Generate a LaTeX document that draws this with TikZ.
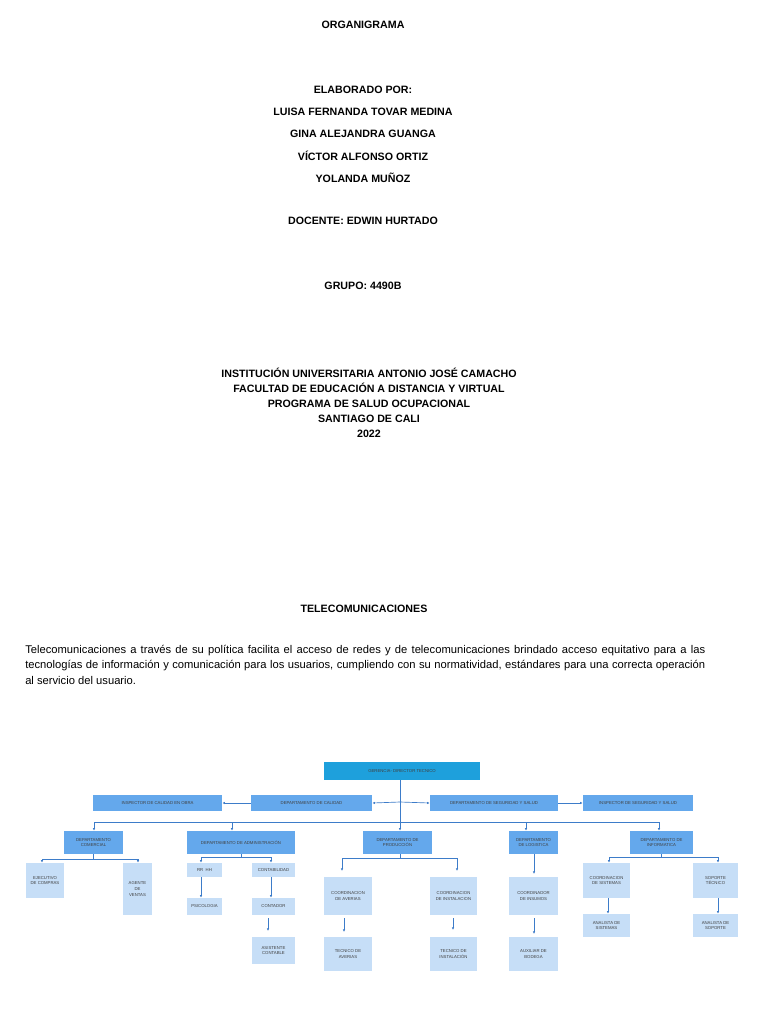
\documentclass[tikz,border=0pt]{standalone}
\usepackage{fontspec}
\setmainfont{Liberation Sans}
\usetikzlibrary{arrows.meta}
\definecolor{gtop}{HTML}{1EA0DC}
\definecolor{gmid}{HTML}{64A8EC}
\definecolor{glow}{HTML}{C6DEF7}
\definecolor{gln}{HTML}{3D7CC9}
\newcommand{\bx}[7]{\node[#2,minimum width={(#5-#3)*0.75pt},minimum height={(#6-#4)*0.75pt}] (#1) at ({(#3+#5)/2},{(#4+#6)/2}) {#7};}
\tikzset{
 box/.style={inner sep=0pt,align=center,font=\fontsize{3.2}{4.2}\selectfont,text=black!75},
 top/.style={box,fill=gtop},
 mid/.style={box,fill=gmid},
 low/.style={box,fill=glow},
 ln/.style={draw=gln,line width=0.5pt},
 ar/.style={ln,-{Latex[length=2pt,width=1.8pt]}},
 ttl/.style={font=\bfseries\fontsize{8}{9}\selectfont,align=center}
}
\begin{document}
\begin{tikzpicture}[x=0.75pt,y=-0.75pt]
\useasboundingbox[fill=white] (0,0) rectangle (768,1024);
\node[ttl] (t1) at (363,25) {ORGANIGRAMA};
\node[ttl] (t2) at (363,90) {ELABORADO POR:};
\node[ttl] (t3) at (363,112) {LUISA FERNANDA TOVAR MEDINA};
\node[ttl] (t4) at (363,134) {GINA ALEJANDRA GUANGA};
\node[ttl] (t5) at (363,156) {VÍCTOR ALFONSO ORTIZ};
\node[ttl] (t6) at (363,178) {YOLANDA MUÑOZ};
\node[ttl] (t7) at (363,221) {DOCENTE: EDWIN HURTADO};
\node[ttl] (t8) at (363,286) {GRUPO: 4490B};
\node[ttl,font=\bfseries\fontsize{8}{11.2}\selectfont] (t9) at (369,403) {INSTITUCIÓN UNIVERSITARIA ANTONIO JOSÉ CAMACHO\\FACULTAD DE EDUCACIÓN A DISTANCIA Y VIRTUAL\\PROGRAMA DE SALUD OCUPACIONAL\\SANTIAGO DE CALI\\2022};
\node[ttl] (t10) at (364,609) {TELECOMUNICACIONES};
\node[anchor=north west,inner sep=0pt,text width=510pt,align=justify,font=\fontsize{8.4}{11.6}\selectfont] (par) at (25,645) {Telecomunicaciones a través de su política facilita el acceso de redes y de telecomunicaciones brindado acceso equitativo para a las tecnologías de información y comunicación para los usuarios, cumpliendo con su normatividad, estándares para una correcta operación al servicio del usuario.};
% level 1-2
\bx{ger}{top}{324}{762}{480}{780}{GERENCIA- DIRECTOR TECNICO}
\bx{ico}{mid}{93}{795}{222}{811}{INSPECTOR DE CALIDAD EN OBRA}
\bx{dca}{mid}{251}{795}{372}{811}{DEPARTAMENTO DE CALIDAD}
\bx{dse}{mid}{430}{795}{558}{811}{DEPARTAMENTO DE SEGURIDAD Y SALUD}
\bx{ise}{mid}{583}{795}{693}{811}{INSPECTOR DE SEGURIDAD Y SALUD}
\bx{dcom}{mid}{64}{831}{123}{854}{DEPARTAMENTO\\COMERCIAL}
\bx{dadm}{mid}{187}{831}{295}{854}{DEPARTAMENTO DE ADMINISTRACIÓN}
\bx{dpro}{mid}{363}{831}{432}{854}{DEPARTAMENTO DE\\PRODUCCIÓN}
\bx{dlog}{mid}{509}{831}{558}{854}{DEPARTAMENTO\\DE LOGISTICA}
\bx{dinf}{mid}{630}{831}{693}{854}{DEPARTAMENTO DE\\INFORMATICA}
% level 3+
\bx{eje}{low}{26}{863}{64}{898}{EJECUTIVO\\DE COMPRAS}
\bx{age}{low}{123}{863}{152}{915}{AGENTE\\DE\\VENTAS}
\bx{rrh}{low}{187}{863}{222}{877}{RR\ \ HH}
\bx{con}{low}{252}{863}{295}{877}{CONTABILIDAD}
\bx{psi}{low}{187}{898}{222}{915}{PSICOLOGIA}
\bx{ctd}{low}{252}{898}{295}{915}{CONTADOR}
\bx{asi}{low}{252}{937}{295}{964}{ASISTENTE\\CONTABLE}
\bx{cav}{low}{324}{877}{372}{915}{COORDINACION\\DE AVERIAS}
\bx{tav}{low}{324}{937}{372}{971}{TECNICO DE\\AVERIAS}
\bx{cin}{low}{430}{877}{477}{915}{COORDINACION\\DE INSTALACION}
\bx{tin}{low}{430}{937}{477}{971}{TECNICO DE\\INSTALACIÓN}
\bx{cis}{low}{509}{877}{558}{915}{COORDINADOR\\DE INSUMOS}
\bx{aux}{low}{509}{937}{558}{971}{AUXILIAR DE\\BODEGA}
\bx{csi}{low}{583}{863}{630}{898}{COORDINACION\\DE SISTEMAS}
\bx{asis}{low}{583}{914}{630}{937}{ANALISTA DE\\SISTEMAS}
\bx{sop}{low}{693}{863}{738}{898}{SOPORTE\\TÉCNICO}
\bx{asop}{low}{693}{914}{738}{937}{ANALISTA DE\\SOPORTE}
% connectors
\coordinate (bus) at (400,822);
\draw[ln] (ger.south -| bus) -- (bus);
\draw[ar] (400,802) -- (dca.east);
\draw[ar] (400,802) -- (dse.west);
\draw[ar] (dca.west) -- (ico.east);
\draw[ar] (dse.east) -- (ise.west);
\draw[ln] (94,822) -- (659,822);
\draw[ar] (94,822) -- (dcom.north -| 94,0);
\draw[ar] (232,822) -- (dadm.north -| 232,0);
\draw[ar] (400,822) -- (dpro.north -| 400,0);
\draw[ar] (526,822) -- (dlog.north -| 526,0);
\draw[ar] (659,822) -- (dinf.north -| 659,0);
% comercial
\draw[ln] (dcom.south) -- (dcom.south |- 0,859);
\draw[ar] (42,859) -- (eje.north -| 42,0);
\draw[ar] (42,859) -- (138,859) -- (age.north -| 138,0);
% admin
\draw[ln] (dadm.south -| 241,0) -- (241,857);
\draw[ar] (241,857) -- (201,857) -- (rrh.north -| 201,0);
\draw[ar] (241,857) -- (271,857) -- (con.north -| 271,0);
\draw[ar] (rrh.south -| 201,0) -- (psi.north -| 201,0);
\draw[ar] (con.south -| 271,0) -- (ctd.north -| 271,0);
\draw[ar] (268,918) -- (268,931);
% produccion
\draw[ln] (dpro.south -| 400,0) -- (400,858);
\draw[ar] (400,858) -- (342,858) -- (342,871);
\draw[ar] (400,858) -- (457,858) -- (457,871);
\draw[ar] (344,918) -- (344,932);
\draw[ar] (453,918) -- (453,930);
% logistica
\draw[ar] (dlog.south -| 534,0) -- (534,874);
\draw[ar] (534,918) -- (534,934);
% informatica
\draw[ln] (dinf.south -| 661,0) -- (661,857);
\draw[ar] (661,857) -- (609,857) -- (csi.north -| 609,0);
\draw[ar] (661,857) -- (718,857) -- (sop.north -| 718,0);
\draw[ar] (csi.south -| 608,0) -- (asis.north -| 608,0);
\draw[ar] (sop.south -| 718,0) -- (asop.north -| 718,0);
\end{tikzpicture}
\end{document}
